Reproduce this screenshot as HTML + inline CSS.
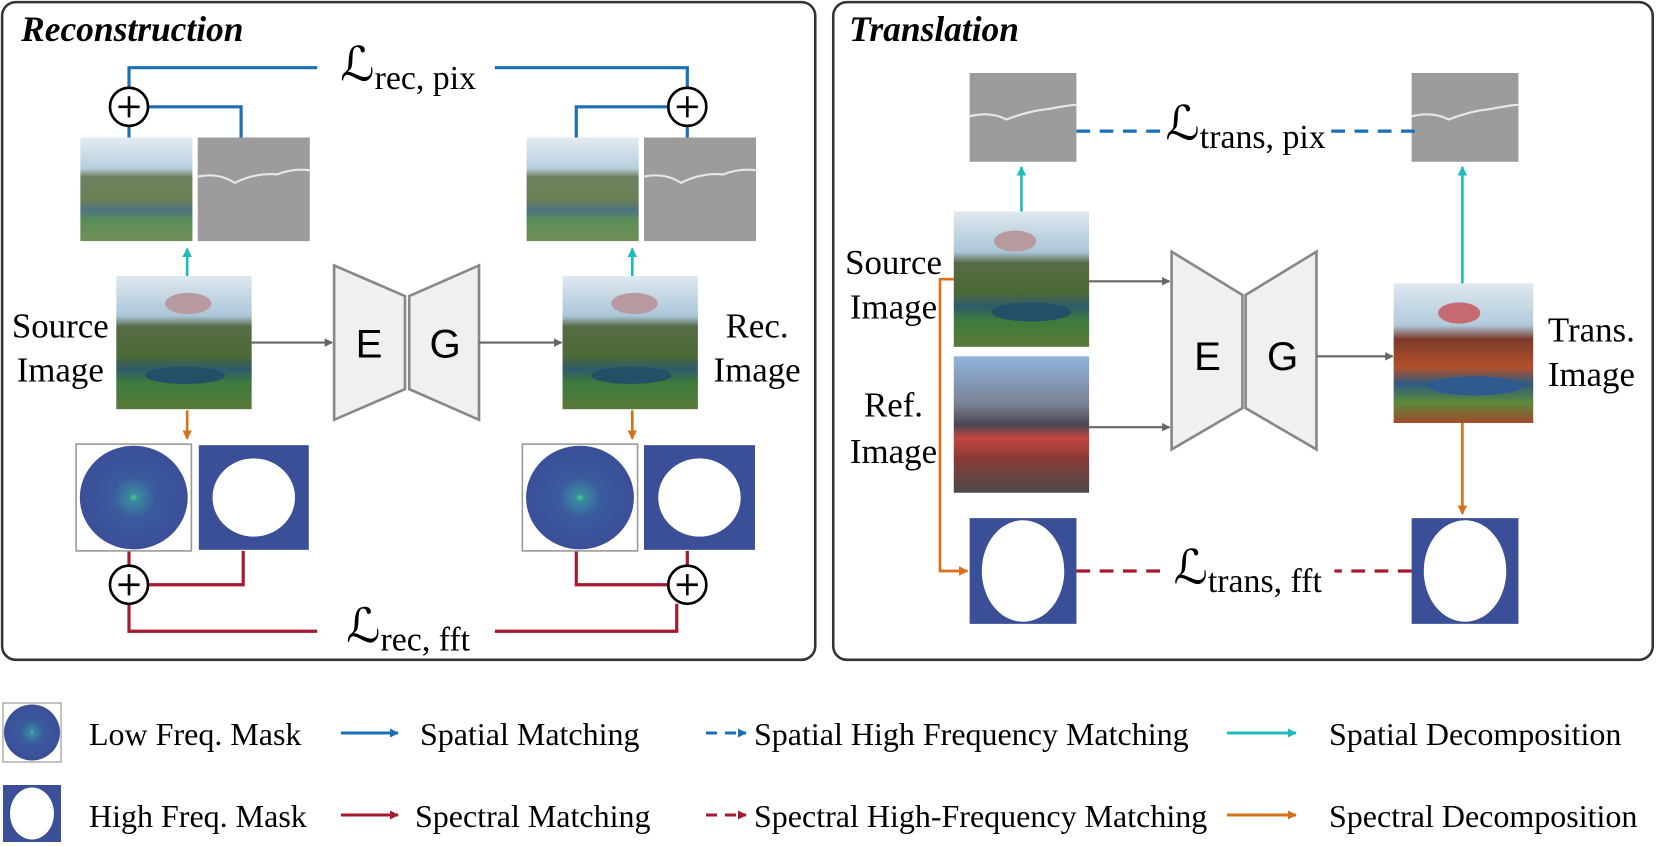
<!DOCTYPE html>
<html><head><meta charset="utf-8"><style>
html,body{margin:0;padding:0;background:#fff;}
svg{display:block;}
.serif{font-family:"Liberation Serif",serif;}
.sans{font-family:"Liberation Sans",sans-serif;}
</style></head><body>
<svg width="1658" height="846" viewBox="0 0 1658 846" xmlns="http://www.w3.org/2000/svg">
<defs>
<linearGradient id="sky" x1="0" y1="0" x2="0" y2="1">
<stop offset="0" stop-color="#dfe8ef"/><stop offset="0.3" stop-color="#aac6d8"/><stop offset="0.38" stop-color="#556b45"/><stop offset="0.6" stop-color="#4d6a35"/><stop offset="0.7" stop-color="#2f5a6c"/><stop offset="0.8" stop-color="#3c7a3c"/><stop offset="1" stop-color="#5a7a3a"/>
</linearGradient>
<linearGradient id="skyT" x1="0" y1="0" x2="0" y2="1">
<stop offset="0" stop-color="#dfe8ef"/><stop offset="0.3" stop-color="#b0cadb"/><stop offset="0.4" stop-color="#7a3a2a"/><stop offset="0.6" stop-color="#b4502a"/><stop offset="0.72" stop-color="#2f5a80"/><stop offset="0.85" stop-color="#5a8a3a"/><stop offset="1" stop-color="#a04a2a"/>
</linearGradient>
<linearGradient id="road" x1="0" y1="0" x2="0" y2="1">
<stop offset="0" stop-color="#8fb3dc"/><stop offset="0.35" stop-color="#7a8294"/><stop offset="0.5" stop-color="#4a4652"/><stop offset="0.6" stop-color="#c0463e"/><stop offset="0.75" stop-color="#8a3a36"/><stop offset="1" stop-color="#4a4a4a"/>
</linearGradient>
<radialGradient id="fft"><stop offset="0" stop-color="#3fd08a"/><stop offset="0.08" stop-color="#3a8aa0"/><stop offset="0.4" stop-color="#3a5a9e"/><stop offset="1" stop-color="#3b4f98"/></radialGradient>
<marker id="ag" markerWidth="8" markerHeight="8" refX="7" refY="4" orient="auto" markerUnits="userSpaceOnUse"><path d="M0,0 L8,4 L0,8 z" fill="#666"/></marker>
<marker id="ac" markerWidth="9" markerHeight="9" refX="8" refY="4.5" orient="auto" markerUnits="userSpaceOnUse"><path d="M0,0 L9,4.5 L0,9 z" fill="#1fbcbc"/></marker>
<marker id="ao" markerWidth="9" markerHeight="9" refX="8" refY="4.5" orient="auto" markerUnits="userSpaceOnUse"><path d="M0,0 L9,4.5 L0,9 z" fill="#d9711b"/></marker>
<marker id="ab" markerWidth="9" markerHeight="9" refX="8" refY="4.5" orient="auto" markerUnits="userSpaceOnUse"><path d="M0,0 L9,4.5 L0,9 z" fill="#1a6fb5"/></marker>
<marker id="ar" markerWidth="9" markerHeight="9" refX="8" refY="4.5" orient="auto" markerUnits="userSpaceOnUse"><path d="M0,0 L9,4.5 L0,9 z" fill="#a6192e"/></marker>
</defs>

<g transform="scale(1.0574)">
<!-- panels -->
<rect x="2" y="2" width="769" height="622" rx="13" fill="none" stroke="#333" stroke-width="2.4"/>
<rect x="788" y="2" width="775" height="622" rx="13" fill="none" stroke="#333" stroke-width="2.4"/>
<text x="20" y="39" class="serif" font-size="33.5" font-weight="bold" font-style="italic">Reconstruction</text>
<text x="803" y="39" class="serif" font-size="33.5" font-weight="bold" font-style="italic">Translation</text>

<g stroke="#1a6fb5" stroke-width="3" fill="none">
<path d="M122,130 V83 M122,83 V64 H300"/>
<path d="M140,101 H228 V130"/>
<path d="M468,64 H650 V83"/>
<path d="M632,101 H545 V130"/>
<path d="M650,119 V130"/>
</g>
<text x="386" y="76" class="serif" font-size="45" text-anchor="middle">ℒ<tspan font-size="32" dy="8">rec, pix</tspan></text>
<g stroke="#a6192e" stroke-width="3" fill="none">
<path d="M122,521 V535 M122,571 V597 H300"/>
<path d="M140,553 H230 V521"/>
<path d="M468,597 H640 V571"/>
<path d="M632,553 H545 V521"/>
<path d="M650,535 V521"/>
</g>
<text x="386" y="607" class="serif" font-size="45" text-anchor="middle">ℒ<tspan font-size="32" dy="8">rec, fft</tspan></text>
<g stroke="#000" stroke-width="2.5" fill="#fff">
<circle cx="122" cy="101" r="18"/><circle cx="650" cy="101" r="18"/>
<circle cx="122" cy="553" r="18"/><circle cx="650" cy="553" r="18"/>
</g>
<g stroke="#000" stroke-width="2.5">
<path d="M112,101 H132 M122,91 V111"/><path d="M640,101 H660 M650,91 V111"/>
<path d="M112,553 H132 M122,543 V563"/><path d="M640,553 H660 M650,543 V563"/>
</g>

<rect x="76" y="130" width="106" height="98" fill="url(#sky)" opacity="0.85"/>
<rect x="498" y="130" width="106" height="98" fill="url(#sky)" opacity="0.85"/>
<rect x="187" y="130" width="106" height="98" fill="#9c9c9c"/>
<path d="M187,167 q20,-4 35,6 q20,-10 40,-8 q15,-6 31,-4" stroke="#e8e8e8" stroke-width="2" fill="none"/>
<rect x="609" y="130" width="106" height="98" fill="#9c9c9c"/>
<path d="M609,167 q20,-4 35,6 q20,-10 40,-8 q15,-6 31,-4" stroke="#e8e8e8" stroke-width="2" fill="none"/>
<rect x="110" y="261" width="128" height="126" fill="url(#sky)"/>
<ellipse cx="178" cy="287" rx="22" ry="10" fill="#b89a9e"/>
<ellipse cx="175" cy="355" rx="38" ry="8" fill="#244f66"/>
<rect x="532" y="261" width="128" height="126" fill="url(#sky)"/>
<ellipse cx="600" cy="287" rx="22" ry="10" fill="#b89a9e"/>
<ellipse cx="597" cy="355" rx="38" ry="8" fill="#244f66"/>

<text x="57" y="319" class="serif" font-size="33" text-anchor="middle">Source</text>
<text x="57" y="361" class="serif" font-size="33" text-anchor="middle">Image</text>
<text x="716" y="319" class="serif" font-size="33" text-anchor="middle">Rec.</text>
<text x="716" y="361" class="serif" font-size="33" text-anchor="middle">Image</text>

<line x1="177" y1="261" x2="177" y2="235" stroke="#1fbcbc" stroke-width="2.5" marker-end="url(#ac)"/>
<line x1="598" y1="261" x2="598" y2="235" stroke="#1fbcbc" stroke-width="2.5" marker-end="url(#ac)"/>
<line x1="177" y1="388" x2="177" y2="415" stroke="#d9711b" stroke-width="2.5" marker-end="url(#ao)"/>
<line x1="598" y1="388" x2="598" y2="415" stroke="#d9711b" stroke-width="2.5" marker-end="url(#ao)"/>

<line x1="238" y1="324" x2="314" y2="324" stroke="#666" stroke-width="2" marker-end="url(#ag)"/>
<path d="M316,251 L383,280 L383,368 L316,397 Z" fill="#f0f0f0" stroke="#888" stroke-width="2.5"/>
<path d="M453,251 L387,280 L387,368 L453,397 Z" fill="#f0f0f0" stroke="#888" stroke-width="2.5"/>
<text x="349" y="338" class="sans" font-size="38" text-anchor="middle">E</text>
<text x="421" y="338" class="sans" font-size="38" text-anchor="middle">G</text>
<line x1="453" y1="324" x2="531" y2="324" stroke="#666" stroke-width="2" marker-end="url(#ag)"/>

<rect x="72" y="420" width="109" height="101" fill="#fff" stroke="#999" stroke-width="1.5"/>
<ellipse cx="126.5" cy="470.5" rx="51" ry="49" fill="url(#fft)"/>
<rect x="188" y="421" width="104" height="99" fill="#3b4f98"/>
<ellipse cx="240" cy="470.5" rx="39" ry="37" fill="#fff"/>
<rect x="494" y="420" width="109" height="101" fill="#fff" stroke="#999" stroke-width="1.5"/>
<ellipse cx="548.5" cy="470.5" rx="51" ry="49" fill="url(#fft)"/>
<rect x="609" y="421" width="105" height="99" fill="#3b4f98"/>
<ellipse cx="661.5" cy="470.5" rx="39" ry="37" fill="#fff"/>

<!-- RIGHT -->
<rect x="917" y="69" width="101" height="84" fill="#9c9c9c"/>
<path d="M917,110 q20,-5 35,3 q20,-8 40,-10 q15,-3 26,-4" stroke="#e8e8e8" stroke-width="2" fill="none"/>
<rect x="1335" y="69" width="101" height="84" fill="#9c9c9c"/>
<path d="M1335,110 q20,-5 35,3 q20,-8 40,-10 q15,-3 26,-4" stroke="#e8e8e8" stroke-width="2" fill="none"/>
<line x1="1018" y1="124" x2="1100" y2="124" stroke="#1a6fb5" stroke-width="3" stroke-dasharray="13,9"/>
<line x1="1338" y1="124" x2="1250" y2="124" stroke="#1a6fb5" stroke-width="3" stroke-dasharray="13,9"/>
<text x="1178" y="132" class="serif" font-size="45" text-anchor="middle">ℒ<tspan font-size="32" dy="8">trans, pix</tspan></text>

<line x1="966" y1="200" x2="966" y2="158" stroke="#1fbcbc" stroke-width="2.5" marker-end="url(#ac)"/>
<line x1="1383" y1="268" x2="1383" y2="158" stroke="#1fbcbc" stroke-width="2.5" marker-end="url(#ac)"/>

<rect x="902" y="200" width="128" height="128" fill="url(#sky)"/>
<ellipse cx="960" cy="228" rx="20" ry="10" fill="#b89a9e"/>
<ellipse cx="975" cy="295" rx="38" ry="9" fill="#244f66"/>
<rect x="902" y="337" width="128" height="129" fill="url(#road)"/>
<rect x="1318" y="268" width="132" height="132" fill="url(#skyT)"/>
<ellipse cx="1380" cy="296" rx="20" ry="10" fill="#c66a72"/>
<ellipse cx="1395" cy="365" rx="45" ry="9" fill="#2f5a90"/>

<text x="845" y="259" class="serif" font-size="33" text-anchor="middle">Source</text>
<text x="845" y="301" class="serif" font-size="33" text-anchor="middle">Image</text>
<text x="845" y="394" class="serif" font-size="33" text-anchor="middle">Ref.</text>
<text x="845" y="438" class="serif" font-size="33" text-anchor="middle">Image</text>
<text x="1505" y="323" class="serif" font-size="33" text-anchor="middle">Trans.</text>
<text x="1505" y="365" class="serif" font-size="33" text-anchor="middle">Image</text>

<path d="M902,264 H889 V540 H915" stroke="#d9711b" stroke-width="2.5" fill="none" marker-end="url(#ao)"/>
<line x1="1383" y1="400" x2="1383" y2="486" stroke="#d9711b" stroke-width="2.5" marker-end="url(#ao)"/>

<line x1="1030" y1="266" x2="1106" y2="266" stroke="#666" stroke-width="2" marker-end="url(#ag)"/>
<line x1="1030" y1="404" x2="1106" y2="404" stroke="#666" stroke-width="2" marker-end="url(#ag)"/>
<path d="M1108,238 L1175,279 L1175,386 L1108,425 Z" fill="#f0f0f0" stroke="#888" stroke-width="2.5"/>
<path d="M1245,238 L1178,279 L1178,386 L1245,425 Z" fill="#f0f0f0" stroke="#888" stroke-width="2.5"/>
<text x="1142" y="350" class="sans" font-size="38" text-anchor="middle">E</text>
<text x="1213" y="350" class="sans" font-size="38" text-anchor="middle">G</text>
<line x1="1245" y1="337" x2="1317" y2="337" stroke="#666" stroke-width="2" marker-end="url(#ag)"/>

<rect x="917" y="490" width="101" height="100" fill="#3b4f98"/>
<ellipse cx="967.5" cy="540" rx="39" ry="48" fill="#fff"/>
<rect x="1335" y="490" width="101" height="100" fill="#3b4f98"/>
<ellipse cx="1385.5" cy="540" rx="39" ry="48" fill="#fff"/>
<line x1="1018" y1="540" x2="1100" y2="540" stroke="#a6192e" stroke-width="3" stroke-dasharray="13,9"/>
<line x1="1335" y1="540" x2="1262" y2="540" stroke="#a6192e" stroke-width="3" stroke-dasharray="13,9"/>
<text x="1180" y="552" class="serif" font-size="45" text-anchor="middle">ℒ<tspan font-size="32" dy="8">trans, fft</tspan></text>
</g>

<!-- LEGEND (actual coords) -->
<rect x="3" y="703" width="58" height="59" fill="#fff" stroke="#999" stroke-width="1.2"/>
<ellipse cx="32" cy="732.5" rx="28" ry="28" fill="url(#fft)"/>
<rect x="3" y="785" width="58" height="57" fill="#3b4f98"/>
<ellipse cx="32" cy="813.5" rx="22" ry="26" fill="#fff"/>
<g class="serif" font-size="32">
<text x="89" y="745">Low Freq. Mask</text>
<text x="89" y="827">High Freq. Mask</text>
<text x="420" y="745">Spatial Matching</text>
<text x="415" y="827">Spectral Matching</text>
<text x="754" y="745">Spatial High Frequency Matching</text>
<text x="754" y="827">Spectral High-Frequency Matching</text>
<text x="1329" y="745">Spatial Decomposition</text>
<text x="1329" y="827">Spectral Decomposition</text>
</g>
<line x1="341" y1="733" x2="398" y2="733" stroke="#1a6fb5" stroke-width="3" marker-end="url(#ab)"/>
<line x1="341" y1="815" x2="398" y2="815" stroke="#a6192e" stroke-width="3" marker-end="url(#ar)"/>
<line x1="706" y1="733" x2="746" y2="733" stroke="#1a6fb5" stroke-width="3" stroke-dasharray="11,8" marker-end="url(#ab)"/>
<line x1="706" y1="815" x2="746" y2="815" stroke="#a6192e" stroke-width="3" stroke-dasharray="11,8" marker-end="url(#ar)"/>
<line x1="1227" y1="733" x2="1296" y2="733" stroke="#1fbcbc" stroke-width="3" marker-end="url(#ac)"/>
<line x1="1227" y1="815" x2="1296" y2="815" stroke="#d9711b" stroke-width="3" marker-end="url(#ao)"/>
</svg>
</body></html>
